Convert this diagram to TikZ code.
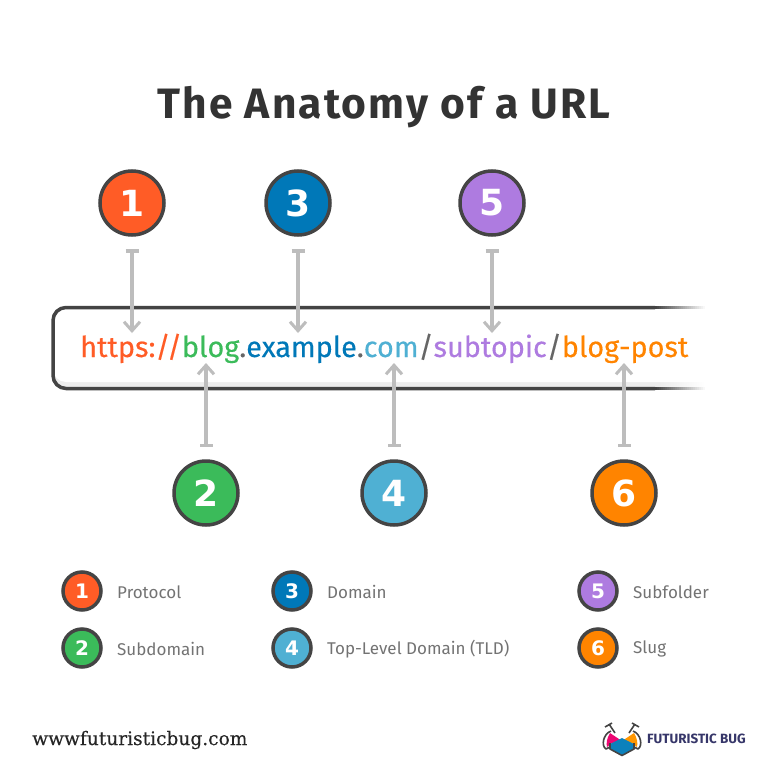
\documentclass[tikz,border=0pt]{standalone}
\usepackage{fontspec}
\usetikzlibrary{arrows.meta}
\setmainfont{Fira Sans}
\newfontfamily\dgfont{DejaVu Sans}
\newfontfamily\titlefont{Fira Sans}[LetterSpace=5]
\newfontfamily\urlfont{Fira Sans}[FakeBold=0.25]
\newfontfamily\footfont{DejaVu Serif}[FakeBold=0.2]
\definecolor{cA}{HTML}{FF5C26}
\definecolor{cB}{HTML}{3BBB5A}
\definecolor{cC}{HTML}{0078B8}
\definecolor{cD}{HTML}{4FB0D3}
\definecolor{cE}{HTML}{AE7BE0}
\definecolor{cF}{HTML}{FF8400}
\definecolor{ink}{HTML}{444444}
\definecolor{conn}{HTML}{BDBDBD}
\definecolor{dots}{HTML}{666666}
\tikzset{
 bigc/.style={circle,draw=ink,line width=3.5pt,minimum size=64pt,inner sep=0pt,text=white,font=\dgfont\bfseries\fontsize{36}{36}\selectfont},
 smallc/.style={circle,draw=ink,line width=3.5pt,minimum size=38pt,inner sep=0pt,text=white,font=\dgfont\bfseries\fontsize{20}{20}\selectfont},
 legend/.style={anchor=west,inner sep=0pt,text=black!55,font=\fontsize{17}{17}\selectfont},
 pointer/.style={draw=conn,line width=3.5pt,{Bar[width=13pt,length=3pt]}-{Straight Barb[length=9pt,width=16pt,line width=3pt]}},
}
\begin{document}
\begin{tikzpicture}[x=1pt,y=-1pt]
\useasboundingbox (0,0) rectangle (768,768);
\fill[white] (0,0) rectangle (768,768);
\node[inner sep=0pt,text=black!80] (title) at (384,107) {\titlefont\bfseries\fontsize{42.5}{43}\selectfont The Anatomy of a URL};
% URL box: inner shadow along the bottom edge
\fill[black!7,rounded corners=13pt] (53,340) rectangle (670,388.5);
\shade[left color=black!7,right color=white] (660,380) rectangle (705,388);
\fill[white,rounded corners=13pt] (53,300) -- (53,382) -- (720,382) -- (720,300) -- cycle;
\draw[ink,line width=3.5pt,rounded corners=13pt] (655,307.5) -- (53,307.5) -- (53,388.5) -- (655,388.5);
\foreach \k in {0,...,24}{
 \pgfmathsetmacro{\pc}{100-4*\k}
 \pgfmathsetmacro{\xa}{655+2*\k}
 \pgfmathsetmacro{\xb}{657.2+2*\k}
 \fill[ink!\pc!white] (\xa,305.75) rectangle (\xb,309.25);
 \fill[ink!\pc!white] (\xa,386.75) rectangle (\xb,390.25);
}
\node[anchor=base west,inner sep=0pt,font=\urlfont\fontsize{28.85}{29}\selectfont] (url) at (80,357) {\textcolor{cA}{https://}\textcolor{cB}{blog}\textcolor{dots}{.}\textcolor{cC}{example}\textcolor{dots}{.}\textcolor{cD}{com}\textcolor{dots}{/}\textcolor{cE}{subtopic}\textcolor{dots}{/}\textcolor{cF}{blog-post}};
% big circles
\node[bigc,fill=cA] (c1) at (132,203) {1};
\node[bigc,fill=cC] (c3) at (298,203) {3};
\node[bigc,fill=cE] (c5) at (492,203) {5};
\node[bigc,fill=cB] (c2) at (206,493) {2};
\node[bigc,fill=cD] (c4) at (394,493) {4};
\node[bigc,fill=cF] (c6) at (624,493) {6};
% connector ends
\coordinate (s1) at (132,249); \coordinate (e1) at (132,333);
\coordinate (s3) at (298,249); \coordinate (e3) at (298,333);
\coordinate (s5) at (492,249); \coordinate (e5) at (492,333);
\coordinate (s2) at (206,447); \coordinate (e2) at (206,363);
\coordinate (s4) at (394,447); \coordinate (e4) at (394,363);
\coordinate (s6) at (624,447); \coordinate (e6) at (624,363);
\foreach \i in {1,...,6}{\draw[pointer] (s\i) -- (e\i);}
% legend
\node[smallc,fill=cA] (l1) at (82,591) {1};
\node[smallc,fill=cB] (l2) at (82,648) {2};
\node[smallc,fill=cC] (l3) at (292,591) {3};
\node[smallc,fill=cD] (l4) at (292,648) {4};
\node[smallc,fill=cE] (l5) at (598,591) {5};
\node[smallc,fill=cF] (l6) at (598,648) {6};
\node[legend] (t1) at (117,592) {Protocol};
\node[legend] (t2) at (117,649) {Subdomain};
\node[legend] (t3) at (327,592) {Domain};
\node[legend] (t4) at (327,649) {Top-Level Domain (TLD)};
\node[legend] (t5) at (633,592) {Subfolder};
\node[legend] (t6) at (633,649) {Slug};
% footer
\node[anchor=west,inner sep=0pt,text=black!85] (web) at (32,740) {\footfont\fontsize{18.6}{19}\selectfont wwwfuturisticbug.com};
% logo
\begin{scope}[line join=round]
\draw[ink,line width=1.6pt] (615,733) -- (609,724) (629,733) -- (635,724) (605,727) -- (612,723) (639,727) -- (632,723);
\fill[magenta!75!red] (622,741) -- (610,733) .. controls (607,738) and (606,743) .. (607,747) -- (612,743) -- cycle;
\fill[cF!85!yellow] (622,741) -- (634,733) .. controls (637,738) and (638,743) .. (637,747) -- (632,743) -- cycle;
\draw[ink,line width=1.6pt] (611,731) .. controls (603,734) and (601,746) .. (606,749) -- (610,747) (633,731) .. controls (641,734) and (643,746) .. (638,749) -- (634,747);
\fill[cC!85!cD] (622,738) -- (634,744) -- (634,749) -- (622,755) -- (610,749) -- (610,744) -- cycle;
\draw[ink,line width=1.6pt] (610,743) -- (610,749) -- (622,755.5) -- (634,749) -- (634,743);
\end{scope}
\node[anchor=west,inner sep=0pt,text=ink!80!blue] (brand) at (647,739) {\bfseries\fontsize{13.4}{14}\selectfont FUTURISTIC BUG};
\end{tikzpicture}
\end{document}
